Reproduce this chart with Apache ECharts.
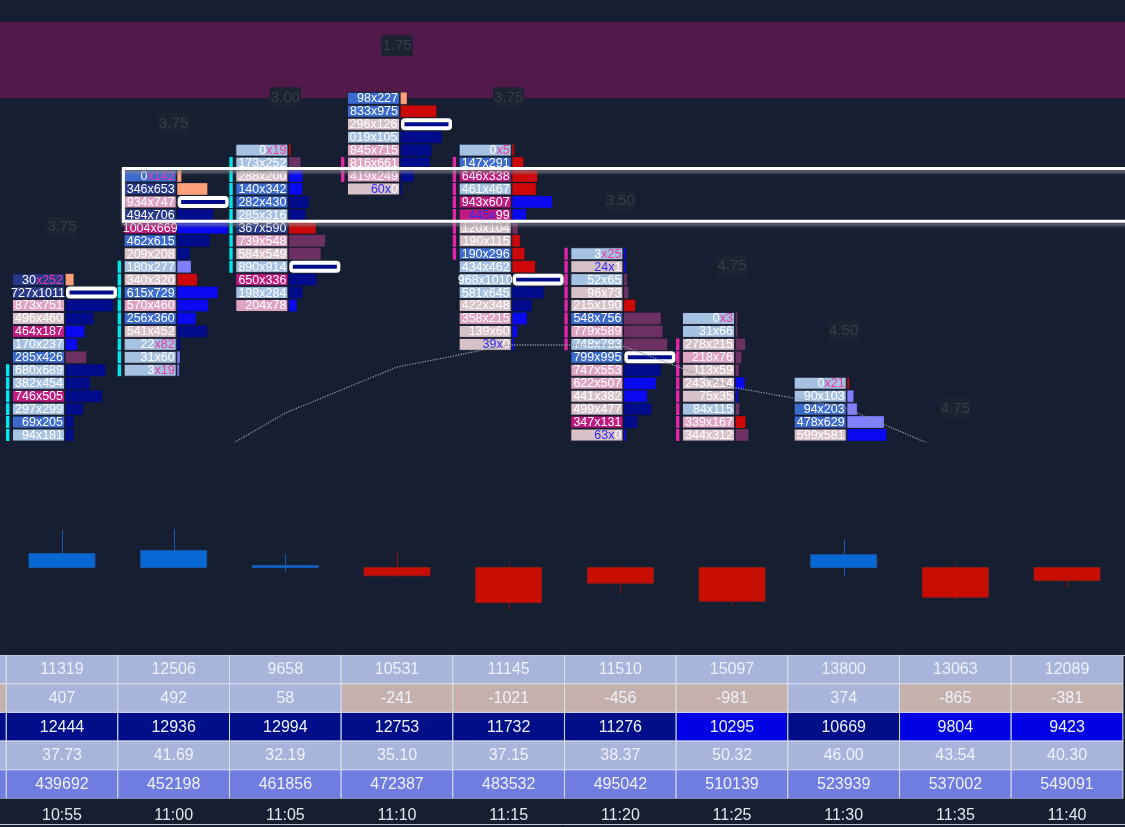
<!DOCTYPE html>
<html>
<head>
<meta charset="utf-8">
<script src="https://cdn.jsdelivr.net/npm/echarts@6.0.0/dist/echarts.min.js"></script>
<style>
html,body{margin:0;padding:0;background:#161e32;overflow:hidden;}
#chart{width:1125px;height:827px;}
</style>
</head>
<body>
<div id="chart"></div>
<script>
// ================= DATA =================
const times = ['10:55','11:00','11:05','11:10','11:15','11:20','11:25','11:30','11:35','11:40'];

// bottom statistics table
const volume    = [11319, 12506, 9658, 10531, 11145, 11510, 15097, 13800, 13063, 12089];
const delta     = [407, 492, 58, -241, -1021, -456, -981, 374, -865, -381];
const cumDelta  = [12444, 12936, 12994, 12753, 11732, 11276, 10295, 10669, 9804, 9423];
const ratio     = [37.73, 41.69, 32.19, 35.10, 37.15, 38.37, 50.32, 46.00, 43.54, 40.30];
const cumVolume = [439692, 452198, 461856, 472387, 483532, 495042, 510139, 523939, 537002, 549091];
const prevBarDeltaSign = -1; // 10:50 bar (only its right edge is visible)

// delta candles (open at 0, close = bar delta)
const deltaHigh = [1090, 1115, 385, 460, 100, 45, 15, 815, 75, 45];
const deltaLow  = [-25, 0, -140, -265, -1250, -770, -1115, -265, -940, -575];

// footprint: top price level of each visible column (rows listed top -> bottom)
const fpTop = [12, 20, 22, 26, 22, 14, 9, 4, -2, null];
// largest single-level volume for columns whose POC lies below the visible area
const fpMaxVolume = [null, null, null, null, null, null, 2540, 1530, null, null];

const fp1055Bid = [30,727,873,496,464,170,285,680,382,746,297,69,94];
const fp1055Ask = [252,1011,751,460,187,237,426,689,454,505,299,205,181];
const fp1055Kind = 'SNNNBBPNNNNNN';

const fp1100Bid = [0,346,934,494,1004,462,209,180,340,615,570,256,541,22,31,3];
const fp1100Ask = [142,653,747,706,669,615,208,277,320,729,460,360,452,82,60,19];
const fp1100Kind = 'SSNNBNNLRBBBNNLL';

const fp1105Bid = [0,173,288,140,282,285,367,739,584,890,650,198,204];
const fp1105Ask = [19,252,200,342,430,316,590,548,549,914,336,284,78];
const fp1105Kind = 'RPBBNNRPPNNNB';

const fp1110Bid = [98,833,1296,1019,845,816,419,60];
const fp1110Ask = [227,975,1263,1057,715,661,249,0];
const fp1110Kind = 'SRNNNNNN';

const fp1115Bid = [0,147,646,461,943,445,120,190,190,434,968,581,422,358,139,39];
const fp1115Ask = [5,291,338,467,607,99,104,115,296,462,1010,645,348,215,60,0];
const fp1115Kind = 'RRRRBBPRRRNNNBBB';

const fp1120Bid = [3,24,52,96,215,548,779,748,799,747,622,441,499,347,63];
const fp1120Ask = [25,1,65,73,190,756,589,783,995,553,507,382,477,131,0];
const fp1120Kind = 'BBPPRPPPNNBBNNB';

const fp1125Bid = [0,31,278,218,113,243,75,84,339,344];
const fp1125Ask = [3,66,215,76,59,214,35,115,167,312];
const fp1125Kind = 'PPPPPBBPRP';

const fp1130Bid = [0,90,94,478,599];
const fp1130Ask = [21,103,203,629,581];
const fp1130Kind = 'RLLLB';

// stacked imbalances: [column, fromLevel, toLevel, side]
const imbalances = [[0,0,5,'buy'],[1,5,13,'buy'],[2,13,21,'buy'],[3,20,21,'sell'],[4,14,21,'sell'],[5,7,14,'sell'],[6,0,7,'sell']];

// labels above each column
const ratioLabels = ['3.75','3.75','3.00','1.75','3.75','3.50','4.75','4.50','4.75', null];

// dotted running line (price level at each bar)
const lineLevels = [null, -3.3, 1.7, 5.25, 6.95, 6.95, 3.7, 2.15, -1.55, null];

// highlighted price zone (levels) starting at a bar, and the upper band
const zoneStartCol = 1, zoneHigh = 20, zoneLow = 17;
const bandLow = 26.0, bandHigh = 31.9;

// ================= STYLE / LAYOUT =================
const FONT = "'Liberation Sans', Arial, Helvetica, sans-serif";
const FS = 12.5;
const SP = 111.67; // px per bar (for converting px offsets into bar units)
const X_MIN = -62 / SP, X_MAX = (1125 - 62) / SP;
const CELL_LEFT = -49.5 / SP, CELL_W = 52 / SP;
const BAR_START = 3.5 / SP, BAR_MAX = 51 / SP, POC_START = 4 / SP;
const MARK_LEFT = -56 / SP, MARK_W = 3.4 / SP;
const KIND_LIST = 'NBLRSP';
const BAR_COLORS = {N:'#000c8c', B:'#0a0af0', L:'#8080ff', R:'#cc0808', S:'#ffa07a', P:'#6c3162'};

function cellBg(bid, ask) {
  const d = ask - bid;
  if (d > 0) { if (d > 210) return '#27398a'; if (d >= 100) return '#3b6bcf'; return '#a6c2e2'; }
  const e = -d;
  if (e > 210) return '#c0197f'; if (e >= 100) return '#dfa4c3'; return '#d8c2c9';
}
function cw(ch) { return (ch === 'x' ? 0.5 : 0.556) * FS; }
function tw(s) { let w = 0; for (const ch of s) w += cw(ch); return w; }

// ---- build footprint data ----
const fpBids = [fp1055Bid, fp1100Bid, fp1105Bid, fp1110Bid, fp1115Bid, fp1120Bid, fp1125Bid, fp1130Bid];
const fpAsks = [fp1055Ask, fp1100Ask, fp1105Ask, fp1110Ask, fp1115Ask, fp1120Ask, fp1125Ask, fp1130Ask];
const fpKinds = [fp1055Kind, fp1100Kind, fp1105Kind, fp1110Kind, fp1115Kind, fp1120Kind, fp1125Kind, fp1130Kind];
const fpData = [];
fpBids.forEach((bids, col) => {
  const asks = fpAsks[col], kinds = fpKinds[col];
  const tot = bids.map((b, k) => b + asks[k]);
  const maxVol = fpMaxVolume[col] != null ? fpMaxVolume[col] : Math.max(...tot);
  bids.forEach((b, k) => {
    fpData.push([col, fpTop[col] - k, b, asks[k], KIND_LIST.indexOf(kinds[k]), maxVol, tot[k] === maxVol ? 1 : 0]);
  });
});

const RICH = {
  w: {fill:'#ffffff', fontSize:FS, fontFamily:FONT},
  m: {fill:'#ec3aa2', fontSize:FS, fontFamily:FONT},
  b: {fill:'#2e2cf0', fontSize:FS, fontFamily:FONT}
};

function renderCell(params, api) {
  const col = api.value(0), lv = api.value(1), bid = api.value(2), ask = api.value(3);
  const kind = KIND_LIST[api.value(4)], maxVol = api.value(5), poc = api.value(6) === 1;
  const c = api.coord([col, lv]);
  const s = api.size([1, 1]);
  const ux = s[0], uy = s[1];
  const h = uy - 1;
  const y = c[1] - h / 2;
  const bx = c[0] + CELL_LEFT * ux, bw = CELL_W * ux;
  const kids = [];
  kids.push({type:'rect', shape:{x:bx, y:y, width:bw, height:h},
    style:{fill:cellBg(bid, ask), stroke:'rgba(22,28,46,0.9)', lineWidth:1}});
  const askHeavy = ask > 0 && bid * 3.5 <= ask;
  const bidHeavy = bid > 0 && ask * 3.5 <= bid;
  const full = bid + 'x' + ask;
  let str, align = 'right', x = bx + bw - 1.5;
  if (askHeavy) str = '{w|' + bid + '}{m|x' + ask + '}';
  else if (bidHeavy) str = '{b|' + bid + 'x}{w|' + ask + '}';
  else {
    str = full;
    const w = tw(full);
    if (w > bw - 2) {
      let start = bx + bw / 2 - w / 2;
      const chars = full.split('');
      while (chars.length && start + cw(chars[0]) / 2 < bx) { start += cw(chars[0]); chars.shift(); }
      let end = start + tw(chars.join(''));
      while (chars.length && end - cw(chars[chars.length - 1]) / 2 > bx + bw) { end -= cw(chars[chars.length - 1]); chars.pop(); }
      str = chars.join(''); align = 'left'; x = start;
    }
  }
  kids.push({type:'text', style:{text:str, x:x, y:c[1] + 0.5, align:align, verticalAlign:'middle',
    fontSize:FS, fontFamily:FONT, fill:'#ffffff', rich:RICH}});
  if (poc) {
    const mx = c[0] + POC_START * ux, mw = BAR_MAX * ux;
    kids.push({type:'rect', shape:{x:mx, y:y, width:mw, height:h, r:4}, style:{fill:'#ffffff'}});
    kids.push({type:'rect', shape:{x:mx + 3.5, y:y + 4, width:mw - 7, height:h - 8}, style:{fill:'#000c8c'}});
  } else {
    const len = Math.max(2, (bid + ask) / maxVol * BAR_MAX * ux);
    kids.push({type:'rect', shape:{x:c[0] + BAR_START * ux, y:y, width:len, height:h},
      style:{fill:BAR_COLORS[kind], stroke:'rgba(20,24,40,0.35)', lineWidth:0.8}});
  }
  return {type:'group', children:kids};
}

function renderMarks(params, api) {
  const col = api.value(0), from = api.value(1), to = api.value(2);
  const side = imbalances[params.dataIndex][3];
  const s = api.size([1, 1]);
  const kids = [];
  for (let lv = from; lv <= to; lv++) {
    const c = api.coord([col, lv]);
    const h = s[1] - 1;
    kids.push({type:'rect', shape:{x:c[0] + MARK_LEFT * s[0], y:c[1] - h / 2, width:MARK_W * s[0], height:h},
      style:{fill: side === 'buy' ? '#00e6ef' : '#e424a8'}});
  }
  return {type:'group', children:kids};
}

const labelData = [];
ratioLabels.forEach((t, i) => { if (t != null && fpTop[i] != null) labelData.push([i, fpTop[i] + 4.05]); });
function renderLabel(params, api) {
  const i = api.value(0);
  const c = api.coord([i, api.value(1)]);
  return {type:'text', style:{text:ratioLabels[i], x:c[0], y:c[1], align:'center', verticalAlign:'middle',
    fontSize:15, fontFamily:FONT, fill:'#373d4b', backgroundColor:'#1b2232', padding:[3, 1]}};
}

function renderBand(params, api) {
  const cs = params.coordSys;
  const yTop = api.coord([0, api.value(1)])[1], yBot = api.coord([0, api.value(0)])[1];
  return {type:'rect', shape:{x:cs.x, y:yTop, width:cs.width, height:yBot - yTop}, style:{fill:'#521a4a'}};
}

function renderZone(params, api) {
  const cs = params.coordSys;
  const ux = api.size([1, 1])[0];
  const pTop = api.coord([api.value(0), api.value(1) + 0.58]);
  const pBot = api.coord([api.value(0), api.value(2) - 0.5]);
  const x0 = pTop[0] - 50.3 / SP * ux;
  return {type:'rect', shape:{x:x0, y:pTop[1], width:cs.x + cs.width - x0 + 10, height:pBot[1] - pTop[1]},
    style:{fill:'none', stroke:'#ffffff', lineWidth:3, shadowColor:'rgba(140,140,150,0.75)', shadowBlur:3, shadowOffsetY:3}};
}

function renderCandle(params, api) {
  const i = api.value(0), o = api.value(1), cl = api.value(2), lo = api.value(3), hi = api.value(4);
  const ux = api.size([1, 1])[0];
  const cx = api.coord([i, 0])[0];
  const yo = api.coord([i, o])[1], yc = api.coord([i, cl])[1], yl = api.coord([i, lo])[1], yh = api.coord([i, hi])[1];
  const up = cl >= o;
  const bw = 0.591 * ux;
  const wx = Math.round(cx) + 0.5;
  return {type:'group', children:[
    {type:'line', shape:{x1:wx, y1:yh, x2:wx, y2:yl}, style:{stroke: up ? '#1a5cab' : '#8c1212', lineWidth:1}},
    {type:'rect', shape:{x:cx - bw / 2, y:Math.min(yo, yc), width:bw, height:Math.max(1, Math.abs(yc - yo))},
      style:{fill: up ? '#0868d4' : '#c80e02', stroke: up ? '#1656a4' : '#8e1a14', lineWidth:1}}
  ]};
}

// ---- table cells ----
const LIGHT = '#a8b5da', TAN = '#c5b0ac', NAVY = '#000f89', BLUE = '#0000e4', PURPLE = '#6f7ce0';
const tableCells = [];
times.forEach((t, i) => {
  tableCells.push({col:i, row:0, text:String(volume[i]), color:LIGHT});
  tableCells.push({col:i, row:1, text:String(delta[i]), color: delta[i] >= 0 ? LIGHT : TAN});
  tableCells.push({col:i, row:2, text:String(cumDelta[i]), color: cumDelta[i] < 10500 ? BLUE : NAVY});
  tableCells.push({col:i, row:3, text:ratio[i].toFixed(2), color:LIGHT});
  tableCells.push({col:i, row:4, text:String(cumVolume[i]), color:PURPLE});
});
// previous (10:50) bar, only the edge is on screen
tableCells.push({col:-1, row:0, text:'', color:LIGHT});
tableCells.push({col:-1, row:1, text:'', color: prevBarDeltaSign >= 0 ? LIGHT : TAN});
tableCells.push({col:-1, row:2, text:'', color:NAVY});
tableCells.push({col:-1, row:3, text:'', color:LIGHT});
tableCells.push({col:-1, row:4, text:'', color:PURPLE});

function renderTableCell(params, api) {
  const cell = tableCells[params.dataIndex];
  const p0 = api.coord([cell.col - 0.5, cell.row]);
  const p1 = api.coord([cell.col + 0.5, cell.row + 1]);
  return {type:'group', children:[
    {type:'rect', shape:{x:p0[0], y:p0[1], width:p1[0] - p0[0], height:p1[1] - p0[1]},
      style:{fill:cell.color, stroke:'#d9deec', lineWidth:1}},
    {type:'text', style:{text:cell.text, x:(p0[0] + p1[0]) / 2, y:(p0[1] + p1[1]) / 2 + 0.5, align:'center', verticalAlign:'middle',
      fill:'#eef1fa', fontSize:16, fontFamily:FONT}}
  ]};
}

const tickIdx = times.map((t, i) => i);
const chart = echarts.init(document.getElementById('chart'), null, {renderer:'canvas', width:1125, height:827});
chart.setOption({
  backgroundColor:'#161e32',
  animation:false,
  grid:[
    {left:0, right:0, top:0, height:441.5, containLabel:false, outerBoundsMode:'none'},
    {left:0, right:0, top:520, height:95, containLabel:false, outerBoundsMode:'none'},
    {left:0, right:0, top:655, height:143.5, containLabel:false, outerBoundsMode:'none'}
  ],
  graphic:[
    {type:'line', silent:true, shape:{x1:0, y1:824.5, x2:1125, y2:824.5}, style:{stroke:'#c5c9d3', lineWidth:1}}
  ],
  xAxis:[
    {gridIndex:0, type:'value', min:X_MIN, max:X_MAX, show:false},
    {gridIndex:1, type:'value', min:X_MIN, max:X_MAX, show:false},
    {gridIndex:2, type:'value', min:X_MIN, max:X_MAX, position:'bottom', offset:3,
      axisLine:{show:true, lineStyle:{color:'#c5c9d3', width:1}},
      axisTick:{show:true, customValues:tickIdx, length:4, lineStyle:{color:'#c5c9d3'}},
      axisLabel:{show:true, customValues:tickIdx, formatter:(v) => times[Math.round(v)] || '', color:'#e4e6ec', fontSize:16, fontFamily:FONT, margin:6},
      splitLine:{show:false}}
  ],
  yAxis:[
    {gridIndex:0, type:'value', min:-0.5, max:33.59, show:false},
    {gridIndex:1, type:'value', min:-1380, max:1380, show:false},
    {gridIndex:2, type:'value', min:0, max:5, inverse:true, show:false}
  ],
  series:[
    {type:'custom', name:'band', xAxisIndex:0, yAxisIndex:0, z:1, clip:true, silent:true,
      data:[[bandLow, bandHigh]], renderItem:renderBand},
    {type:'custom', name:'labels', xAxisIndex:0, yAxisIndex:0, z:2, clip:true, silent:true,
      data:labelData, renderItem:renderLabel},
    {type:'custom', name:'footprint', xAxisIndex:0, yAxisIndex:0, z:3, clip:true, silent:true,
      data:fpData, renderItem:renderCell},
    {type:'custom', name:'imbalance', xAxisIndex:0, yAxisIndex:0, z:3, clip:true, silent:true,
      data:imbalances.map(m => [m[0], m[1], m[2]]), renderItem:renderMarks},
    {type:'custom', name:'zone', xAxisIndex:0, yAxisIndex:0, z:4, clip:true, silent:true,
      data:[[zoneStartCol, zoneHigh, zoneLow]], renderItem:renderZone},
    {type:'line', name:'running', xAxisIndex:0, yAxisIndex:0, z:6, clip:true, silent:true,
      showSymbol:false, symbol:'none',
      data:lineLevels.map((v, i) => [i, v]).filter(d => d[1] != null),
      lineStyle:{color:'#8c93a2', width:1.3, type:'dotted'}},
    {type:'custom', name:'delta candles', xAxisIndex:1, yAxisIndex:1, z:3, clip:true, silent:true,
      data:times.map((t, i) => [i, 0, delta[i], deltaLow[i], deltaHigh[i]]), renderItem:renderCandle},
    {type:'custom', name:'table', xAxisIndex:2, yAxisIndex:2, z:3, clip:true, silent:true,
      data:tableCells.map(c => [c.col, c.row]), renderItem:renderTableCell}
  ]
});
</script>
</body>
</html>
